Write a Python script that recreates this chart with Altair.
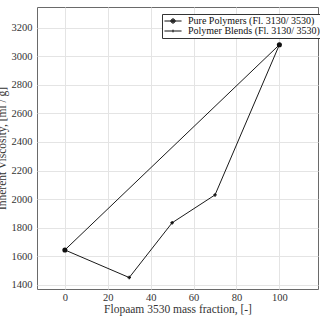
import altair as alt
import pandas as pd

pure_x = [0, 100]
pure_y = [1645, 3080]
blend_x = [0, 30, 50, 70, 100]
blend_y = [1645, 1452, 1835, 2030, 3080]
series_names = ["Pure Polymers (Fl. 3130/ 3530)", "Polymer Blends (Fl. 3130/ 3530)"]
x_ticks = [0, 20, 40, 60, 80, 100]
y_ticks = [1400, 1600, 1800, 2000, 2200, 2400, 2600, 2800, 3000, 3200]

rows = []
for i, (x, y) in enumerate(zip(pure_x, pure_y)):
    rows.append({"series": series_names[0], "x": x, "y": y, "order": i})
for i, (x, y) in enumerate(zip(blend_x, blend_y)):
    rows.append({"series": series_names[1], "x": x, "y": y, "order": i})
df = pd.DataFrame(rows)

FONT = "Liberation Serif"

xenc = alt.X("x:Q", scale=alt.Scale(domain=[-13, 118], nice=False, zero=False),
             axis=alt.Axis(values=x_ticks, format="d", title="Flopaam 3530 mass fraction, [-]",
                           titleY=23, titleBaseline="alphabetic",
                           labelBaseline="alphabetic", labelPadding=11))
yenc = alt.Y("y:Q", scale=alt.Scale(domain=[1372, 3344], nice=False, zero=False),
             axis=alt.Axis(values=y_ticks, format="d", title="Inherent Viscosity, [ml / g]",
                           titleX=-32, titleY=141, titleAngle=270,
                           titleBaseline="alphabetic", titleAlign="center",
                           labelPadding=5))

lines = alt.Chart(df).mark_line(color="#1a1a1a", strokeWidth=1).encode(
    x=xenc, y=yenc, detail="series:N", order="order:Q"
)

points = alt.Chart(df).mark_point(filled=True, color="#111111", opacity=1).encode(
    x=xenc, y=yenc,
    shape=alt.Shape("series:N",
                    scale=alt.Scale(domain=series_names, range=["circle", "cross"]),
                    legend=None),
    size=alt.Size("series:N", scale=alt.Scale(domain=series_names, range=[26, 12]), legend=None),
)

pure_sym = ("M-1.9,0H1.9"
            "M-0.48,0A0.48,0.48 0 1,1 0.48,0A0.48,0.48 0 1,1 -0.48,0"
            "M-0.3,0A0.3,0.3 0 1,1 0.3,0A0.3,0.3 0 1,1 -0.3,0"
            "M-0.12,0A0.12,0.12 0 1,1 0.12,0A0.12,0.12 0 1,1 -0.12,0")
blend_sym = "M-1.9,0H1.9M0,-0.3V0.3"

legend_layer = alt.Chart(df).mark_point(filled=False, color="#111111",
                                        strokeWidth=1, opacity=0).encode(
    x=xenc, y=yenc,
    shape=alt.Shape("series:N",
                    scale=alt.Scale(domain=series_names, range=[pure_sym, blend_sym]),
                    legend=alt.Legend(
                        title=None, orient="none", legendX=125, legendY=7,
                        padding=2, rowPadding=0, labelFont=FONT, labelFontSize=10,
                        labelColor="#111111", labelLimit=300, labelOffset=10,
                        strokeColor="#333333", fillColor="white",
                        symbolSize=81, symbolOffset=4, symbolStrokeWidth=1, symbolOpacity=1,
                        symbolStrokeColor="#111111")),
)

chart = alt.layer(lines, points, legend_layer).resolve_scale(shape="independent").properties(
    width=281, height=282,
    autosize=alt.AutoSizeParams(type="none"),
    padding={"left": 37, "top": 7, "right": 2, "bottom": 31},
    background="white",
).configure_view(
    stroke="#6a6a6a", strokeWidth=1, fill="white"
).configure_axis(
    grid=True, gridColor="#e4e4e4", gridWidth=1, domain=False, ticks=False,
    labelFont=FONT, labelFontSize=10.5, labelColor="#333333",
    titleFont=FONT, titleFontSize=11.5, titleColor="#333333", titleFontWeight="normal",
)

chart.save("out.html", embed_options={"renderer": "svg", "actions": False})
